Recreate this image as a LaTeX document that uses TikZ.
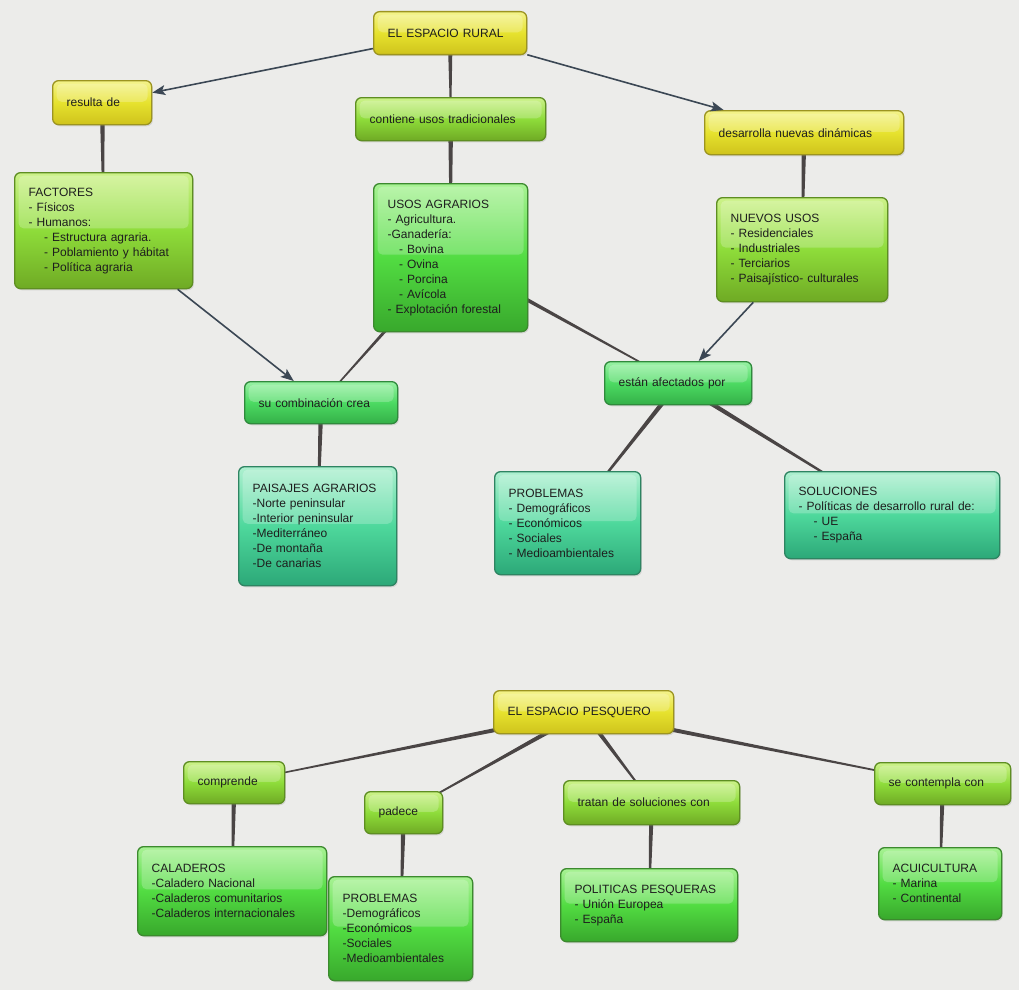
\documentclass[tikz,border=0pt]{standalone}
\usepackage{fontspec}
\setmainfont{Liberation Sans}
\usetikzlibrary{arrows.meta,shadows,calc}
\definecolor{canvasc}{HTML}{ECECEA}
\definecolor{txt}{HTML}{1E1E1E}
\definecolor{yelT}{HTML}{F4F38C}\definecolor{yelM}{HTML}{E6E22E}\definecolor{yelD}{HTML}{CFC31C}\definecolor{yelB}{HTML}{9C9420}
\definecolor{ygT}{HTML}{CDF28A}\definecolor{ygM}{HTML}{8EDC3A}\definecolor{ygD}{HTML}{6FAA24}\definecolor{ygB}{HTML}{5E8E22}
\definecolor{grT}{HTML}{A8F294}\definecolor{grM}{HTML}{52DC42}\definecolor{grD}{HTML}{38A82C}\definecolor{grB}{HTML}{3C8A2E}
\definecolor{emT}{HTML}{98F2A4}\definecolor{emM}{HTML}{4CDA62}\definecolor{emD}{HTML}{34B048}\definecolor{emB}{HTML}{2F8A3C}
\definecolor{tlT}{HTML}{AEF0D0}\definecolor{tlM}{HTML}{4ED89C}\definecolor{tlD}{HTML}{2CA878}\definecolor{tlB}{HTML}{2E8462}
\definecolor{connc}{HTML}{4A4545}
\definecolor{arrc}{HTML}{3B4754}
\pgfdeclarelayer{canvas}\pgfdeclarelayer{background}
\pgfsetlayers{canvas,background,main}
\tikzset{
  cbox/.style={rounded corners=6pt, line width=1.3pt, inner xsep=14pt, inner ysep=2pt,
    anchor=north west, align=left, font=\fontsize{12}{15}\selectfont, text=txt,
    drop shadow={shadow xshift=1.2pt, shadow yshift=-1.6pt, opacity=0.22},
    path picture={\fill[white,opacity=0.22,rounded corners=5pt]
      ($(path picture bounding box.north west)+(4pt,-3pt)$) rectangle
      ($(path picture bounding box.north east)!0.48!(path picture bounding box.south east)+(-4pt,0)$);}},
  yel/.style={cbox, draw=yelB, top color=yelT, bottom color=yelD, middle color=yelM},
  ygr/.style={cbox, draw=ygB, top color=ygT, bottom color=ygD, middle color=ygM},
  grn/.style={cbox, draw=grB, top color=grT, bottom color=grD, middle color=grM},
  emr/.style={cbox, draw=emB, top color=emT, bottom color=emD, middle color=emM},
  tel/.style={cbox, draw=tlB, top color=tlT, bottom color=tlD, middle color=tlM},
  arr/.style={draw=arrc, line width=1.6pt, -{Stealth[length=13pt,width=10pt,inset=3pt]}},
  conn/.style={fill=connc}
}
\newcommand\cnode[7]{%
  \pgfmathsetmacro\cnTW{#5-28}%
  \node[#1, minimum height=#6pt, text width=\cnTW pt] (#2) at (#3,#4) {#7};}
\newcommand\taper[2]{%
  \begin{pgfonlayer}{background}
  \fill[conn] ($(#1)!2.5pt!90:(#2)$) -- ($(#2)!0.5pt!-90:(#1)$) -- ($(#2)!0.5pt!90:(#1)$) -- ($(#1)!2.5pt!-90:(#2)$) -- cycle;
  \end{pgfonlayer}}
\newcommand\ind[1]{\hspace*{#1pt}}
\begin{document}
\begin{tikzpicture}[x=1pt,y=-1pt]
\begin{pgfonlayer}{canvas}
\fill[canvasc] (0,0) rectangle (1019,990);
\end{pgfonlayer}
\useasboundingbox (0,0) rectangle (1019,990);

\cnode{yel}{rural}{373}{11}{153}{43}{EL ESPACIO RURAL}
\cnode{yel}{resulta}{52}{80}{99}{44}{resulta de}
\cnode{ygr}{contiene}{355}{97}{190}{43}{contiene usos tradicionales}
\cnode{yel}{desarrolla}{704}{110}{199}{44}{desarrolla nuevas dinámicas}
\cnode{ygr}{factores}{14}{172}{178}{116}{FACTORES\\- Físicos\\- Humanos:\\\ind{15.5}- Estructura agraria.\\\ind{15.5}- Poblamiento y hábitat\\\ind{15.5}- Política agraria}
\cnode{grn}{usos}{373}{183}{154}{148}{USOS AGRARIOS\\- Agricultura.\\-Ganadería:\\\ind{11.5}- Bovina\\\ind{11.5}- Ovina\\\ind{11.5}- Porcina\\\ind{11.5}- Avícola\\- Explotación forestal}
\cnode{ygr}{nuevos}{716}{197}{171}{104}{NUEVOS USOS\\- Residenciales\\- Industriales\\- Terciarios\\- Paisajístico- culturales}
\cnode{emr}{sucomb}{244}{381}{153}{42}{su combinación crea}
\cnode{emr}{estan}{604}{361}{147}{43}{están afectados por}
\cnode{tel}{paisajes}{238}{466}{158}{119}{PAISAJES AGRARIOS\\-Norte peninsular\\-Interior peninsular\\-Mediterráneo\\-De montaña\\-De canarias}
\cnode{tel}{probA}{494}{471}{146}{103}{PROBLEMAS\\- Demográficos\\- Económicos\\- Sociales\\- Medioambientales}
\cnode{tel}{soluc}{784}{471}{215}{87}{SOLUCIONES\\- Políticas de desarrollo rural de:\\\ind{15}- UE\\\ind{15}- España}

\cnode{yel}{pesq}{493}{690}{180}{43}{EL ESPACIO PESQUERO}
\cnode{ygr}{comprende}{183}{761}{101}{42}{comprende}
\cnode{ygr}{padece}{364}{791}{78}{42}{padece}
\cnode{ygr}{tratan}{563}{780}{176}{44}{tratan de soluciones con}
\cnode{ygr}{contempla}{874}{762}{136}{42}{se contempla con}
\cnode{grn}{calad}{137}{846}{189}{89}{CALADEROS\\-Caladero Nacional\\-Caladeros comunitarios\\-Caladeros internacionales}
\cnode{grn}{probB}{328}{876}{144}{104}{PROBLEMAS\\-Demográficos\\-Económicos\\-Sociales\\-Medioambientales}
\cnode{grn}{polit}{560}{868}{177}{73}{POLITICAS PESQUERAS\\- Unión Europea\\- España}
\cnode{grn}{acui}{878}{847}{123}{72}{ACUICULTURA\\- Marina\\- Continental}

% tapered linking lines
\taper{rural.center}{contiene.center}
\taper{resulta.center}{factores.center}
\taper{contiene.center}{usos.center}
\taper{desarrolla.center}{nuevos.center}
\taper{usos.center}{sucomb.center}
\taper{usos.center}{estan.center}
\taper{sucomb.center}{paisajes.center}
\taper{estan.center}{probA.center}
\taper{estan.center}{soluc.center}
\taper{pesq.center}{comprende.center}
\taper{pesq.center}{padece.center}
\taper{pesq.center}{tratan.center}
\taper{pesq.center}{contempla.center}
\taper{comprende.center}{calad.center}
\taper{padece.center}{probB.center}
\taper{tratan.center}{polit.center}
\taper{contempla.center}{acui.center}

% arrows
\draw[arr] (rural) -- (resulta);
\draw[arr] (rural) -- (desarrolla);
\draw[arr] (factores) -- (sucomb);
\draw[arr] (nuevos) -- (estan);
\end{tikzpicture}
\end{document}
